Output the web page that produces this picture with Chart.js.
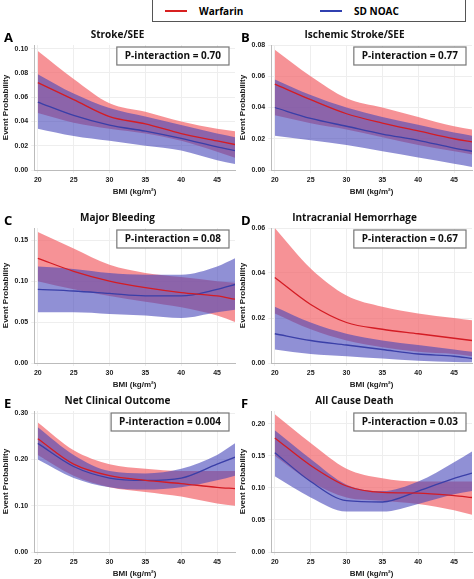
<!DOCTYPE html>
<html><head><meta charset="utf-8">
<script src="https://cdn.jsdelivr.net/npm/chart.js@4/dist/chart.umd.min.js"></script>
<style>
body{margin:0;width:474px;height:579px;background:#fff;font-family:"Open Sans",sans-serif;position:relative;overflow:hidden}
.p{position:absolute}
.lt{position:absolute;font-weight:bold;font-size:13px}
#leg{position:absolute;left:152px;top:-1px;width:312px;height:21px;border:1px solid #555;font-size:10px;font-weight:bold;display:flex;align-items:center}
.li{display:flex;align-items:center;margin-left:10px;width:150px}
.ln{display:inline-block;width:22px;height:2px;margin-right:12px}
</style></head><body>
<div id="leg"><div class="li" style="margin-left:12px"><span class="ln" style="background:#d82020"></span>Warfarin</div><div class="li"><span class="ln" style="background:#3040b0"></span>SD NOAC</div></div>
<script>
const bmi=[20,25,30,35,40,45,47.5];
const titles=["Stroke/SEE","Ischemic Stroke/SEE","Major Bleeding","Intracranial Hemorrhage","Net Clinical Outcome","All Cause Death"];
const letters=["A","B","C","D","E","F"];
const pInteraction=["0.70","0.77","0.08","0.67","0.004","0.03"];
const yMax=[0.103,0.08,0.165,0.06,0.305,0.22];
const yStep=[0.02,0.02,0.05,0.02,0.1,0.05];
const warfUpper=[[.098,.075,.055,.048,.040,.034,.032],[.077,.060,.046,.040,.034,.028,.026],[.160,.140,.120,.110,.105,.100,.098],[.060,.042,.030,.025,.022,.020,.019],[.28,.22,.19,.18,.175,.175,.175],[.215,.17,.13,.115,.11,.11,.11]];
const warfLine=[[.072,.058,.044,.038,.030,.024,.021],[.055,.045,.036,.030,.025,.020,.018],[.128,.112,.100,.092,.086,.082,.078],[.038,.026,.018,.015,.013,.011,.010],[.245,.19,.165,.155,.148,.140,.137],[.178,.135,.103,.093,.092,.088,.085]];
const warfLower=[[.047,.039,.034,.030,.024,.015,.010],[.035,.030,.026,.021,.016,.012,.010],[.100,.090,.082,.075,.068,.058,.050],[.022,.015,.010,.007,.005,.004,.003],[.21,.165,.14,.13,.12,.105,.10],[.15,.11,.085,.08,.075,.065,.058]];
const noacUpper=[[.079,.063,.051,.044,.037,.030,.027],[.058,.048,.040,.034,.029,.024,.022],[.118,.115,.110,.108,.108,.118,.128],[.025,.018,.013,.010,.008,.006,.005],[.27,.21,.175,.17,.18,.21,.235],[.19,.145,.105,.095,.11,.14,.157]];
const noacLine=[[.056,.045,.037,.032,.026,.019,.016],[.040,.033,.028,.023,.019,.014,.012],[.090,.088,.085,.082,.082,.090,.096],[.013,.010,.008,.006,.004,.003,.002],[.235,.185,.16,.155,.16,.19,.205],[.155,.11,.08,.078,.095,.115,.123]];
const noacLower=[[.034,.028,.024,.020,.016,.008,.005],[.022,.019,.016,.012,.008,.004,.002],[.062,.062,.060,.058,.055,.062,.065],[.006,.004,.003,.002,.001,.0005,.0003],[.20,.16,.14,.135,.14,.155,.165],[.118,.085,.063,.063,.075,.09,.095]];

const pos=[[0,27,237,170],[237,27,237,170],[0,210,237,180],[237,210,237,180],[0,393,237,186],[237,393,237,186]];
const pBox={id:'pbox',afterDraw(c,a,o){const ctx=c.ctx,ca=c.chartArea;ctx.save();ctx.font='bold 10px "Open Sans"';const t='P-interaction = '+o.text;const w=ctx.measureText(t).width+16;const x=ca.right-w-6,y=ca.top+2;ctx.fillStyle='#fff';ctx.fillRect(x,y,w,18);ctx.strokeStyle='#777';ctx.lineWidth=1.2;ctx.strokeRect(x,y,w,18);ctx.fillStyle='#111';ctx.textBaseline='middle';ctx.fillText(t,x+8,y+9.5);ctx.restore();}};
const pts=a=>bmi.map((x,i)=>({x,y:a[i]}));
for(let k=0;k<6;k++){
 const [l,t,w,h]=pos[k];
 const d=document.createElement('div');d.className='p';d.style.cssText=`left:${l}px;top:${t}px;width:${w}px;height:${h}px`;
 const cv=document.createElement('canvas');d.appendChild(cv);document.body.appendChild(d);
 const lt=document.createElement('div');lt.className='lt';lt.textContent=letters[k];lt.style.left=(l+4)+'px';lt.style.top=(t+1)+'px';document.body.appendChild(lt);
 const base={pointRadius:0,tension:0.4,cubicInterpolationMode:'monotone'};
 new Chart(cv,{type:'line',data:{datasets:[
  {...base,data:pts(warfLine[k]),borderWidth:1.3,borderColor:'#d41c24',fill:false},
  {...base,data:pts(noacLine[k]),borderWidth:1.3,borderColor:'#3a3fa8',fill:false},
  {...base,data:pts(noacLower[k]),borderWidth:0,fill:false},
  {...base,data:pts(noacUpper[k]),borderWidth:0,fill:'-1',backgroundColor:'rgba(70,70,185,0.6)'},
  {...base,data:pts(warfLower[k]),borderWidth:0,fill:false},
  {...base,data:pts(warfUpper[k]),borderWidth:0,fill:'-1',backgroundColor:'rgba(242,100,105,0.7)'}
 ]},options:{responsive:true,maintainAspectRatio:false,animation:false,
  layout:{padding:{right:2,top:0}},
  plugins:{legend:{display:false},tooltip:{enabled:false},pbox:{text:pInteraction[k]},
   title:{display:true,text:titles[k],color:'#111',font:{family:'Open Sans',size:10,weight:'bold'},padding:{top:2,bottom:4}}},
  scales:{x:{type:'linear',min:19.5,max:47.5,afterBuildTicks:s=>{s.ticks=[20,25,30,35,40,45].map(v=>({value:v}))},
    grid:{color:'#eee',drawTicks:true,tickLength:3},border:{color:'#bbb'},
    ticks:{font:{size:7,weight:'bold'},color:'#222',maxRotation:0},
    title:{display:true,text:'BMI (kg/m²)',font:{size:8,weight:'bold'},color:'#222',padding:0}},
   y:{min:0,max:yMax[k],afterBuildTicks:s=>{const r=[];for(let v=0;v<=yMax[k]+1e-9;v+=yStep[k])r.push({value:+v.toFixed(3)});s.ticks=r},
    ticks:{font:{size:7,weight:'bold'},color:'#222',callback:v=>v.toFixed(2)},
    grid:{color:'#eee',tickLength:3},border:{color:'#bbb'},
    title:{display:true,text:'Event Probability',font:{size:8,weight:'bold'},color:'#222',padding:1}}}},
  plugins:[pBox]});
}
</script></body></html>
